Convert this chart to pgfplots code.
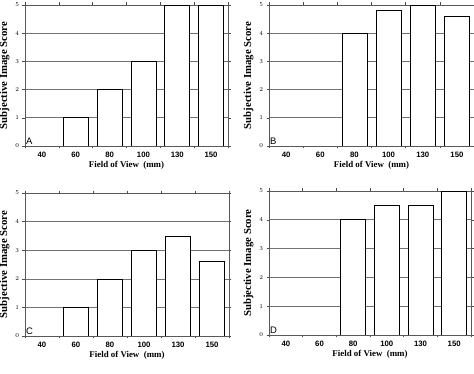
\documentclass[border=0pt]{standalone}
\usepackage{fontspec}
\setmainfont{Liberation Serif}
\newfontfamily\arialfont{Liberation Sans}
\usepackage{pgfplots}
\pgfplotsset{compat=1.18}
\pgfplotsset{
  panel/.style={
    scale only axis,
    anchor=south west,
    height=141bp,
    xmin=-0.5, xmax=5.5,
    ymin=0, ymax=5,
    ytick={0,1,2,3,4,5},
    xtick={0,1,2,3,4,5},
    xticklabels={40,60,80,100,130,150},
    minor xtick={-0.5,0.5,1.5,2.5,3.5,4.5,5.5},
    major x tick style={draw=none},
    minor x tick style={black!70,line width=0.5pt},
    y tick style={black!70,line width=0.5pt},
    tick align=outside,
    minor tick length=2.5bp,
    major tick length=2.5bp,
    ymajorgrids,
    grid style={black!55,line width=0.6pt},
    axis line style={black!65,line width=0.6pt},
    ybar, bar width=25bp, bar shift=0pt,
    xticklabel style={font=\arialfont\bfseries\fontsize{7.8}{9}\selectfont},
    yticklabel style={font=\arialfont\bfseries\fontsize{6.5}{7}\selectfont},
    xlabel={Field of View\ \ (mm)},
    ylabel={Subjective Image Score},
    xlabel style={font=\bfseries\fontsize{8.9}{10}\selectfont, yshift=3bp},
    ylabel style={font=\bfseries\fontsize{10.8}{12}\selectfont, yshift=-1bp},
  }
}
\pgfplotstableread{
x A B C D
0 0 0 0 0
1 1 0 1 0
2 2 4 2 4
3 3 4.8 3 4.5
4 5 5 3.5 4.5
5 5 4.6 2.6 5
}\data
\begin{document}
\begin{tikzpicture}
\useasboundingbox (0,0) rectangle (474bp,374bp);
\begin{axis}[panel, at={(25bp,228bp)}, width=203bp]
\addplot[fill=white, draw=black, line width=0.6pt] table[x=x,y=A]{\data};
\node[anchor=south west,font=\arialfont\fontsize{9.5}{10}\selectfont,inner sep=1bp] at (rel axis cs:0,0) {A};
\end{axis}
\begin{axis}[panel, at={(269bp,228bp)}, width=205bp]
\addplot[fill=white, draw=black, line width=0.6pt] table[x=x,y=B]{\data};
\node[anchor=south west,font=\arialfont\fontsize{9.5}{10}\selectfont,inner sep=1bp] at (rel axis cs:0,0) {B};
\end{axis}
\begin{axis}[panel, at={(25bp,38bp)}, width=204bp, height=143bp]
\addplot[fill=white, draw=black, line width=0.6pt] table[x=x,y=C]{\data};
\node[anchor=south west,font=\arialfont\fontsize{9.5}{10}\selectfont,inner sep=1bp] at (rel axis cs:0,0) {C};
\end{axis}
\begin{axis}[panel, at={(269bp,39bp)}, width=202bp, height=144bp]
\addplot[fill=white, draw=black, line width=0.6pt] table[x=x,y=D]{\data};
\node[anchor=south west,font=\arialfont\fontsize{9.5}{10}\selectfont,inner sep=1bp] at (rel axis cs:0,0) {D};
\end{axis}
\end{tikzpicture}
\end{document}
